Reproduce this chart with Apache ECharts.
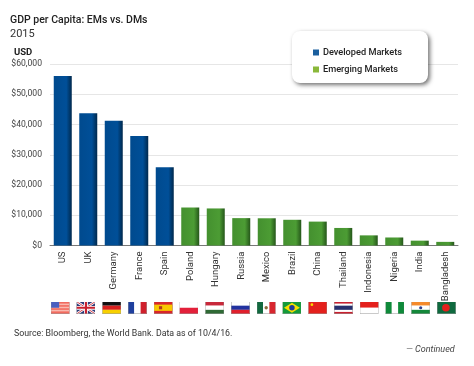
<!DOCTYPE html>
<html>
<head>
<meta charset="utf-8">
<style>
html, body { margin: 0; padding: 0; background: #fff; }
#chart { width: 474px; height: 366px; }
</style>
<script src="https://cdn.jsdelivr.net/npm/echarts@6/dist/echarts.min.js"></script>
</head>
<body>
<div id="chart"></div>
<script>
var countries = ['US', 'UK', 'Germany', 'France', 'Spain', 'Poland', 'Hungary', 'Russia', 'Mexico', 'Brazil', 'China', 'Thailand', 'Indonesia', 'Nigeria', 'India', 'Bangladesh'];
var developed = [56000, 43700, 41200, 36200, 25900, null, null, null, null, null, null, null, null, null, null, null];
var emerging = [null, null, null, null, null, 12560, 12250, 9050, 9000, 8500, 7900, 5800, 3350, 2650, 1600, 1200];
var yTicks = [0, 10000, 20000, 30000, 40000, 50000, 60000];

// small svg flags, 18x12
var flagParts = {
    US: '<rect width="18" height="12" fill="#f26a5e"/><rect y="2" width="18" height="1.5" fill="#f9b8ae"/><rect y="5" width="18" height="1.5" fill="#f9b8ae"/><rect y="8" width="18" height="1.5" fill="#f9b8ae"/><rect width="8" height="6" fill="#4a5fc0"/>',
    UK: '<rect width="18" height="12" fill="#2b3a78"/><path d="M0 0L18 12M18 0L0 12" stroke="#fff" stroke-width="2.4"/><path d="M0 0L18 12M18 0L0 12" stroke="#c8202f" stroke-width="0.8"/><path d="M9 0V12M0 6H18" stroke="#fff" stroke-width="3.6"/><path d="M9 0V12M0 6H18" stroke="#c8202f" stroke-width="2"/>',
    Germany: '<rect width="18" height="4" fill="#111"/><rect y="4" width="18" height="4" fill="#d8201f"/><rect y="8" width="18" height="4" fill="#f7d000"/>',
    France: '<rect width="6" height="12" fill="#1f3f9e"/><rect x="6" width="6" height="12" fill="#fff"/><rect x="12" width="6" height="12" fill="#d0202c"/>',
    Spain: '<rect width="18" height="12" fill="#d8262a"/><rect y="3" width="18" height="6" fill="#f8c800"/><rect x="5" y="4.5" width="3" height="3" fill="#b03a20"/>',
    Poland: '<rect width="18" height="6" fill="#fff"/><rect y="6" width="18" height="6" fill="#e3203a"/>',
    Hungary: '<rect width="18" height="4" fill="#c8283a"/><rect y="4" width="18" height="4" fill="#fff"/><rect y="8" width="18" height="4" fill="#2f6a35"/>',
    Russia: '<rect width="18" height="4" fill="#fff"/><rect y="4" width="18" height="4" fill="#2233a0"/><rect y="8" width="18" height="4" fill="#e0202c"/>',
    Mexico: '<rect width="6" height="12" fill="#12693f"/><rect x="6" width="6" height="12" fill="#fff"/><rect x="12" width="6" height="12" fill="#d8262f"/><circle cx="9" cy="6" r="1.6" fill="#8a6a3a"/>',
    Brazil: '<rect width="18" height="12" fill="#149a3a"/><path d="M9 1.2L16.5 6L9 10.8L1.5 6Z" fill="#f8e000"/><circle cx="9" cy="6" r="2.6" fill="#1f3a9a"/>',
    China: '<rect width="18" height="12" fill="#e4201c"/><circle cx="3.5" cy="3" r="1.3" fill="#f8d800"/>',
    Thailand: '<rect width="18" height="12" fill="#c8202f"/><rect y="2" width="18" height="8" fill="#fff"/><rect y="4" width="18" height="4" fill="#27306e"/>',
    Indonesia: '<rect width="18" height="6" fill="#e4201c"/><rect y="6" width="18" height="6" fill="#fff"/>',
    Nigeria: '<rect width="6" height="12" fill="#0f8a3a"/><rect x="6" width="6" height="12" fill="#fff"/><rect x="12" width="6" height="12" fill="#0f8a3a"/>',
    India: '<rect width="18" height="4" fill="#f58a2a"/><rect y="4" width="18" height="4" fill="#fff"/><rect y="8" width="18" height="4" fill="#14883a"/><circle cx="9" cy="6" r="1.5" fill="#30408f"/>',
    Bangladesh: '<rect width="18" height="12" fill="#0f6a3f"/><circle cx="8.5" cy="6" r="3.6" fill="#e4201c"/>'
};

function flagUrl(name) {
    var svg = '<svg xmlns="http://www.w3.org/2000/svg" width="18" height="12" viewBox="0 0 18 12">' + flagParts[name] +
        '<rect x="0.25" y="0.25" width="17.5" height="11.5" fill="none" stroke="#999" stroke-width="0.5"/></svg>';
    return 'data:image/svg+xml;charset=utf-8,' + encodeURIComponent(svg);
}

function barFill(left, mid, right) {
    return new echarts.graphic.LinearGradient(0, 0, 1, 0, [
        {offset: 0, color: left},
        {offset: 0.7, color: mid},
        {offset: 1, color: right}
    ]);
}

var fontName = 'Roboto, "Liberation Sans", Arial, sans-serif';
var chart = echarts.init(document.getElementById('chart'), null, {renderer: 'canvas'});

chart.setOption({
    animation: false,
    backgroundColor: '#fff',
    title: {
        text: 'GDP per Capita: EMs vs. DMs',
        subtext: '2015',
        left: 10,
        top: 15,
        itemGap: 3,
        textStyle: {fontFamily: fontName, fontSize: 10.5, fontWeight: 500, color: '#222'},
        subtextStyle: {fontFamily: fontName, fontSize: 11, color: '#333'},
        padding: 0
    },
    legend: {
        orient: 'vertical',
        left: 292,
        top: 31,
        padding: [17, 26, 9, 21],
        itemGap: 8,
        itemWidth: 6,
        itemHeight: 6,
        icon: 'rect',
        backgroundColor: '#fff',
        borderRadius: 8,
        shadowColor: 'rgba(0,0,0,0.55)',
        shadowBlur: 4,
        shadowOffsetX: 2,
        shadowOffsetY: 2,
        textStyle: {fontFamily: fontName, fontSize: 9.2, fontWeight: 500, color: '#222', padding: [0, 0, 0, -1]},
        data: [
            {name: 'Developed Markets', itemStyle: {color: '#1a5f9e'}},
            {name: 'Emerging Markets', itemStyle: {color: '#8ab83a'}}
        ]
    },
    grid: {left: 50, right: 16, top: 64, height: 181.5, containLabel: false},
    xAxis: {
        type: 'category',
        data: countries,
        axisTick: {show: false},
        axisLine: {lineStyle: {color: '#777', width: 1}},
        axisLabel: {
            rotate: 90,
            interval: 0,
            margin: 6,
            fontFamily: fontName,
            fontSize: 9.5,
            color: '#333'
        }
    },
    yAxis: {
        type: 'value',
        min: yTicks[0],
        max: yTicks[yTicks.length - 1],
        interval: yTicks[1] - yTicks[0],
        name: 'USD',
        nameLocation: 'end',
        nameGap: 6,
        nameTextStyle: {fontFamily: fontName, fontSize: 9.5, fontWeight: 'bold', color: '#222', align: 'left', padding: [0, 0, 0, -36]},
        axisLine: {show: false},
        axisTick: {show: false},
        splitLine: {lineStyle: {color: '#e6e6e6', width: 1}},
        axisLabel: {
            margin: 8,
            fontFamily: fontName,
            fontSize: 8.6,
            color: '#444',
            formatter: function (v) { return '$' + v.toLocaleString('en-US'); }
        }
    },
    series: [
        {
            name: 'Developed Markets',
            type: 'bar',
            data: developed,
            barWidth: 18,
            barGap: '-100%',
            itemStyle: {color: barFill('#004a8e', '#004f98', '#00284c')}
        },
        {
            name: 'Emerging Markets',
            type: 'bar',
            data: emerging,
            barWidth: 18,
            itemStyle: {color: barFill('#44902f', '#4c9c34', '#25561a')}
        }
    ]
});

// flags sit on their own spacing, a bit wider than the bars
var flagLeft = 50.7, flagStep = 25.75;
var extras = countries.map(function (name, i) {
    return {
        type: 'image',
        left: flagLeft + i * flagStep,
        top: 301.5,
        style: {image: flagUrl(name), width: 19, height: 12.5}
    };
});
extras.push({
    type: 'text',
    left: 14,
    top: 329,
    style: {text: 'Source: Bloomberg, the World Bank. Data as of 10/4/16.', font: '8.8px ' + fontName, fill: '#333'}
});
extras.push({
    type: 'text',
    left: 406,
    top: 345,
    style: {text: '— Continued', font: 'italic 9px ' + fontName, fill: '#444'}
});
chart.setOption({graphic: extras});
</script>
</body>
</html>
